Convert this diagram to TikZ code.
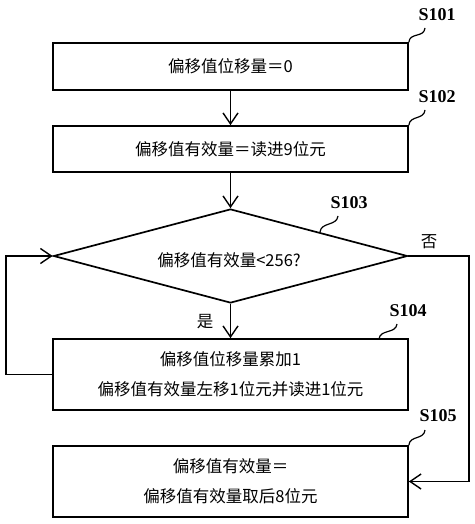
\documentclass[tikz,border=0pt]{standalone}
\usepackage{fontspec}
\setmainfont{Liberation Serif}
\newfontfamily\cjk{Noto Sans CJK SC}
\usetikzlibrary{arrows.meta,shapes.geometric,calc}
\begin{document}
\begin{tikzpicture}[x=1pt,y=-1pt,
  box/.style={draw,line width=1.7pt,minimum width=355pt,inner sep=0pt,align=center,
    font=\cjk\fontsize{16.5}{30}\selectfont},
  arr/.style={line width=1.7pt,-{Straight Barb[length=11pt,width=15pt,line width=1.4pt]}},
  lab/.style={font=\bfseries\fontsize{18}{20}\selectfont,inner sep=0pt},
  sq/.style={line width=1.2pt},
  txt/.style={font=\cjk\fontsize{16.5}{20}\selectfont,inner sep=0pt}]
\useasboundingbox (0,0) rectangle (474,524);
\node[box,minimum height=47pt] (b1) at (230.5,66.5) {偏移值位移量＝0};
\node[box,minimum height=46pt] (b2) at (230.5,149) {偏移值有效量＝读进9位元};
\node[draw,line width=1.7pt,shape=diamond,minimum width=354pt,minimum height=94pt,inner sep=0pt,
  font=\cjk\fontsize{16.5}{20}\selectfont] (d) at (230.5,256) {};
\node[txt] (dt) at (229,260) {偏移值有效量<256?};
\node[box,minimum height=71pt] (b4) at (230.5,374.5) {偏移值位移量累加1\\偏移值有效量左移1位元并读进1位元};
\node[box,minimum height=71pt] (b5) at (230.5,481.5) {偏移值有效量＝\\偏移值有效量取后8位元};
% arrows
\draw[arr] (b1.south) -- (b2.north);
\draw[arr] (b2.south) -- (d.north);
\draw[arr] (d.south) -- (b4.north);
\coordinate (lc) at (6,374.5);
\draw[arr] (b4.west) -- (lc) |- (d.west);
\coordinate (rc) at (469,481.5);
\draw[arr] (d.east) -| (rc) -- (b5.east);
\node[txt] (yes) at (205,322) {是};
\node[txt] (no) at (429,242) {否};
% labels
\node[lab] (s1) at (437,15) {S101};
\node[lab] (s2) at (437,97) {S102};
\node[lab] (s3) at (349,203) {S103};
\node[lab] (s4) at (408,311) {S104};
\node[lab] (s5) at (438,416) {S105};
\draw[sq] (b1.north east) .. controls +(1,-10) and +(-1,10) .. (425,28);
\draw[sq] (b2.north east) .. controls +(1,-10) and +(-1,10) .. (425,110);
\coordinate (d3) at (320,232);
\draw[sq] (d3) .. controls +(1,-10) and +(-1,10) .. (338,216);
\coordinate (d4) at (379,339);
\draw[sq] (d4) .. controls +(1,-10) and +(-1,10) .. (397,324);
\draw[sq] (b5.north east) .. controls +(1,-10) and +(-1,10) .. (425,430);
\end{tikzpicture}
\end{document}
